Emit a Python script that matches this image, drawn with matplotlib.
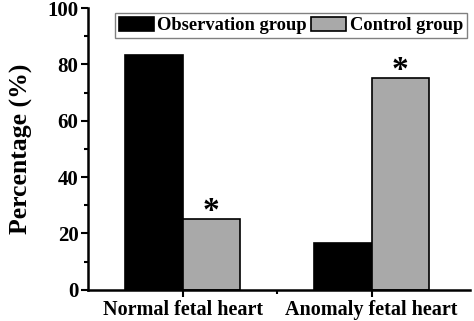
import matplotlib

matplotlib.use("Agg")
import matplotlib.pyplot as plt
import numpy as np
from matplotlib.ticker import MultipleLocator, FixedLocator

categories = ["Normal fetal heart", "Anomaly fetal heart"]
observation = [83.3, 16.7]
control = [25.0, 75.0]
significant = [True, True]

plt.rcParams["font.family"] = ["Liberation Serif", "DejaVu Serif"]
plt.rcParams["font.weight"] = "bold"

fig = plt.figure(figsize=(4.74, 3.21), dpi=100)
ax = fig.add_axes([0.186, 0.097, 0.805, 0.878])

x = np.arange(1, len(categories) + 1)
w = 0.305
ax.bar(x - w / 2, observation, w, color="black", edgecolor="black",
       linewidth=1.2, label="Observation group")
ax.bar(x + w / 2, control, w, color="#a9a9a9", edgecolor="black",
       linewidth=1.2, label="Control group")

# significance stars above the control bars
for xi, v, s in zip(x, control, significant):
    if s:
        ax.text(xi + w / 2, v - 2.7, "*", ha="center", va="bottom",
                fontsize=24, fontweight="bold")

ax.set_xlim(0.5, 2.52)
ax.set_ylim(0, 100)
ax.set_xticks(x)
ax.set_xticklabels(categories, fontsize=14.5, fontweight="bold")
ax.xaxis.set_minor_locator(FixedLocator([1.5]))
ax.yaxis.set_major_locator(MultipleLocator(20))
ax.yaxis.set_minor_locator(MultipleLocator(10))
ax.tick_params(axis="both", which="major", direction="out", length=5,
               width=1.5, pad=2)
ax.tick_params(axis="y", which="major", labelsize=15)
ax.tick_params(axis="both", which="minor", direction="out", length=3,
               width=1.5)
for lab in ax.get_yticklabels():
    lab.set_fontweight("bold")

for side in ("top", "right"):
    ax.spines[side].set_visible(False)
for side in ("left", "bottom"):
    ax.spines[side].set_linewidth(1.8)

ax.set_ylabel("Percentage (%)", fontsize=18.5, fontweight="bold", labelpad=10)

leg = fig.legend(loc="upper left", bbox_to_anchor=(115 / 474, 1 - 13 / 321),
                 ncol=2, fancybox=False, edgecolor="#808080", framealpha=1,
                 prop={"size": 13.3, "weight": "bold"}, handlelength=1.9,
                 handleheight=0.85, columnspacing=0.2, handletextpad=0.2,
                 borderpad=0.2, borderaxespad=0.0)
leg.get_frame().set_linewidth(1.0)

fig.savefig("out.png", dpi=100)
